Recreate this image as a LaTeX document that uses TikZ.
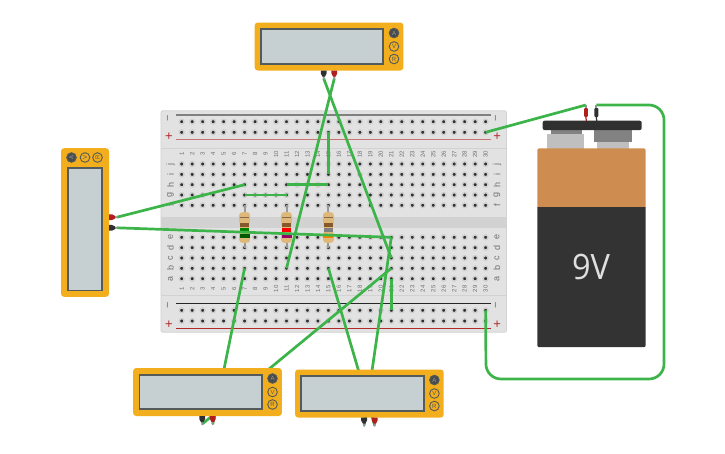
\documentclass[tikz,border=0pt]{standalone}
\usepackage{fontspec}
\setmainfont{Liberation Sans}
\newfontfamily\cellfont{Open Sans}
\definecolor{wirecol}{HTML}{3CB44A}
\definecolor{meterbody}{HTML}{F2AE1C}
\definecolor{meterscreen}{HTML}{C6CFD1}
\definecolor{meterline}{HTML}{555A5A}
\definecolor{boardcol}{HTML}{E2E2E2}
\definecolor{boardedge}{HTML}{D2D2D2}
\definecolor{holedark}{HTML}{2E2E2E}
\definecolor{holehalo}{HTML}{CFCFCF}
\definecolor{labelgray}{HTML}{707070}
\definecolor{railred}{HTML}{B02A2A}
\definecolor{railpale}{HTML}{C97474}
\definecolor{probered}{HTML}{B01E1E}
\definecolor{probeblack}{HTML}{303030}
\definecolor{tipgray}{HTML}{8A9A90}
\definecolor{bodytan}{HTML}{DDB878}
\definecolor{leadgray}{HTML}{999999}
\definecolor{cellorange}{HTML}{CF8C50}
\definecolor{celldark}{HTML}{333333}
\pgfdeclarelayer{meters}
\pgfsetlayers{main,meters}
\tikzset{
  wire/.style={draw=wirecol,line width=2.7pt},
  hole/.style={circle,fill=holedark,draw=holehalo,line width=1.4pt,inner sep=0,minimum size=4.7pt},
  numlbl/.style={text=labelgray,rotate=90,inner sep=0,font=\fontsize{6}{6}\selectfont},
  letlbl/.style={text=labelgray,rotate=90,inner sep=0,font=\fontsize{9}{9}\selectfont},
  minuslbl/.style={text=labelgray,rotate=90,inner sep=0,font=\fontsize{11}{11}\selectfont},
  pluslbl/.style={text=railred,inner sep=0,font=\fontsize{13}{13}\selectfont},
  lead/.style={draw=leadgray,line width=2pt},
  knob/.style={circle,draw=meterline,line width=0.9pt,text=meterline,inner sep=0,minimum size=9.6pt,font=\fontsize{6}{6}\selectfont},
  knobon/.style={knob,fill=meterline!85!black,text=leadgray},
  meter/.pic={
    % case, screen and knobs
    \node[fill=meterbody,rounded corners=3pt,minimum width=148.6pt,minimum height=48pt,inner sep=0] (-case) at (0,0) {};
    \node[fill=meterscreen,draw=meterline,line width=1.9pt,minimum width=122.4pt,minimum height=34.8pt,inner sep=0] (-screen) at (-6.8,0) {};
    \node[knobon] (-a) at (65,-13.5) {A};
    \node[knob] (-v) at (65,0) {V};
    \node[knob] (-r) at (65,12.5) {R};
    % probes
    \fill[tipgray] (-6.5,29) -- (-4.1,29) -- (-4.6,33) -- (-6,33) -- cycle;
    \fill[tipgray] (4.1,29) -- (6.5,29) -- (6,33) -- (4.6,33) -- cycle;
    \fill[probeblack] (-8.2,24) -- (-2.4,24) -- (-2.4,27) -- (-4,30) -- (-6.6,30) -- (-8.2,27) -- cycle;
    \fill[probered] (2.4,24) -- (8.2,24) -- (8.2,27) -- (6.6,30) -- (4,30) -- (2.4,27) -- cycle;
    \coordinate (-blk) at (-5.3,32);
    \coordinate (-red) at (5.3,32);
  }
}
\begin{document}
\begin{tikzpicture}[x=1pt,y=-1pt]
\useasboundingbox (0,0) rectangle (725,453);
% breadboard
\node[fill=boardcol,draw=boardedge,line width=0.8pt,rounded corners=2pt,minimum width=345.5pt,minimum height=221.5pt,inner sep=0] (board) at (333.7,221.5) {};
\fill[boardedge] (161.2,217) rectangle (506.2,228);
\draw[boardedge,line width=0.8pt] (161.2,148.5) -- (506.2,148.5);
\draw[boardedge,line width=0.8pt] (161.2,295) -- (506.2,295);
% rails
\draw[gray,line width=1.5pt] (176,115) -- (491,115);
\draw[railpale,line width=1.5pt] (176,139.7) -- (491,139.7);
\draw[black!85,line width=1pt] (176,303.3) -- (491,303.3);
\draw[railred,line width=1pt] (176,328.7) -- (491,328.7);
\node[minuslbl] (lm1) at (169,118.5) {−};
\node[pluslbl] (lp1) at (169,137) {+};
\node[minuslbl] (rm1) at (497.2,118.5) {−};
\node[pluslbl] (rp1) at (497.2,137) {+};
\node[minuslbl] (lm2) at (169,305.7) {−};
\node[pluslbl] (lp2) at (169,324.5) {+};
\node[minuslbl] (rm2) at (497.2,305.7) {−};
\node[pluslbl] (rp2) at (497.2,324.5) {+};
% holes
\foreach \rowname/\rowy in {tm/121.7,tp/132.3,j/164,i/174.4,h/184.7,g/195,f/205.3,e/237.3,d/247.7,c/258,b/268.3,a/278.7,bm/310.3,bp/321}{
  \foreach \col in {1,...,30}{
    \pgfmathsetmacro\colx{181.7+(\col-1)*10.48}
    \node[hole] (\rowname-\col) at (\colx,\rowy) {};
  }
}
% numbers and letters
\foreach \col in {1,...,30}{
  \pgfmathsetmacro\colx{181.7+(\col-1)*10.48}
  \node[numlbl] (numt-\col) at (\colx,154) {\col};
  \node[numlbl] (numb-\col) at (\colx,288.7) {\col};
}
\foreach \rowname/\rowy in {j/164,i/174.4,h/184.7,g/195,f/205.3,e/237.3,d/247.7,c/258,b/268.3,a/278.7}{
  \node[letlbl] (letl-\rowname) at (170.5,\rowy) {\rowname};
  \node[letlbl] (letr-\rowname) at (497,\rowy) {\rowname};
}
% resistors
\foreach \col/\bandb/\bandc in {7/green!50!black/green!35!black,11/red/violet!80!red,15/gray/orange}{
  \pgfmathsetmacro\colx{181.7+(\col-1)*10.48}
  \draw[lead] (f-\col.center) -- (d-\col.center);
  \begin{scope}[shift={(\colx,0)}]
    \fill[bodytan,rounded corners=2.5pt] (-3,212) -- (3,212) -- (5.6,214) -- (5.6,221) -- (4.4,224) -- (4.4,232) -- (5.6,235) -- (5.6,241) -- (3,243) -- (-3,243) -- (-5.6,241) -- (-5.6,235) -- (-4.4,232) -- (-4.4,224) -- (-5.6,221) -- (-5.6,214) -- cycle;
    \fill[brown!55!black!80] (-4.8,216.6) rectangle (4.8,217.6);
    \fill[brown!70!black] (-4.4,223.4) rectangle (4.4,226.6);
    \fill[\bandb] (-4.4,228.4) rectangle (4.4,231.6);
    \fill[\bandc] (-5,233.6) rectangle (5,238);
  \end{scope}
}
% meters
\begin{pgfonlayer}{meters}
\pic (mtop) at (329,46.5) {meter};
\pic (mleft) [rotate=90,transform shape] at (85,222.5) {meter};
\pic (mlow) at (207.5,392) {meter};
\pic (mhigh) at (369.4,393.5) {meter};
\end{pgfonlayer}
% battery
\fill[leadgray!85!black] (550.7,129) rectangle (581.7,135);
\fill[gray!50] (547.3,134.3) rectangle (584.3,149);
\fill[leadgray!85!black] (594.3,129) rectangle (631.7,141.7);
\fill[gray!50] (597.3,141.7) rectangle (629,149);
\node[fill=probeblack,rounded corners=2pt,minimum width=99pt,minimum height=9.4pt,inner sep=0] (cap) at (592.2,125.4) {};
\fill[cellorange] (537.3,207.2) [rounded corners=2pt] -- (537.3,148.3) -- (645.7,148.3) [sharp corners] -- (645.7,207.2) -- cycle;
\fill[celldark] (537.3,207.2) [rounded corners=2pt] -- (537.3,347.2) -- (645.7,347.2) [sharp corners] -- (645.7,207.2) -- cycle;
\node[text=gray!25,inner sep=0,font=\cellfont\fontsize{35}{35}\selectfont,xscale=0.93] (volts) at (591,266.5) {9V};
% wires
\coordinate (clipred) at (585.8,105);
\coordinate (clipblack) at (596.3,105);
\coordinate (turnb) at (664,105);
\coordinate (turnc) at (664,379);
\coordinate (turnd) at (486,379);
\draw[wire] (mleft-red) -- (h-7.center);
\draw[wire] (mleft-blk) -- (e-21.center);
\draw[wire] (g-7.center) -- (g-11.center);
\draw[wire] (h-11.center) -- (h-15.center);
\draw[wire] (tp-15.center) -- (i-15.center);
\draw[wire] (mtop-blk) -- (c-21.center);
\draw[wire] (mtop-red) -- (b-11.center);
\draw[wire] (mlow-red) -- (b-7.center);
\draw[wire] (mlow-blk) -- (b-21.center);
\draw[wire] (mhigh-red) -- (b-15.center);
\draw[wire] (mhigh-blk) -- (e-21.center);
\draw[wire] (a-21.center) -- (bm-21.center);
\draw[wire] (tp-30.center) -- (clipred);
\draw[wire,rounded corners=15pt] (clipblack) -- (turnb) -- (turnc) -- (turnd) -- (bm-30.center);
% battery clips
\fill[tipgray] (584.8,104.5) rectangle (586.8,108);
\fill[tipgray] (595.3,104.5) rectangle (597.3,108);
\fill[probered,rounded corners=1pt] (584,108) rectangle (587.8,117);
\draw[probered,line width=1.2pt] (585.8,117) -- (586.4,121);
\fill[probeblack,rounded corners=1pt] (594.3,108) rectangle (598.3,117);
\draw[probeblack,line width=1.2pt] (596.3,117) -- (596.8,121);
\end{tikzpicture}
\end{document}
